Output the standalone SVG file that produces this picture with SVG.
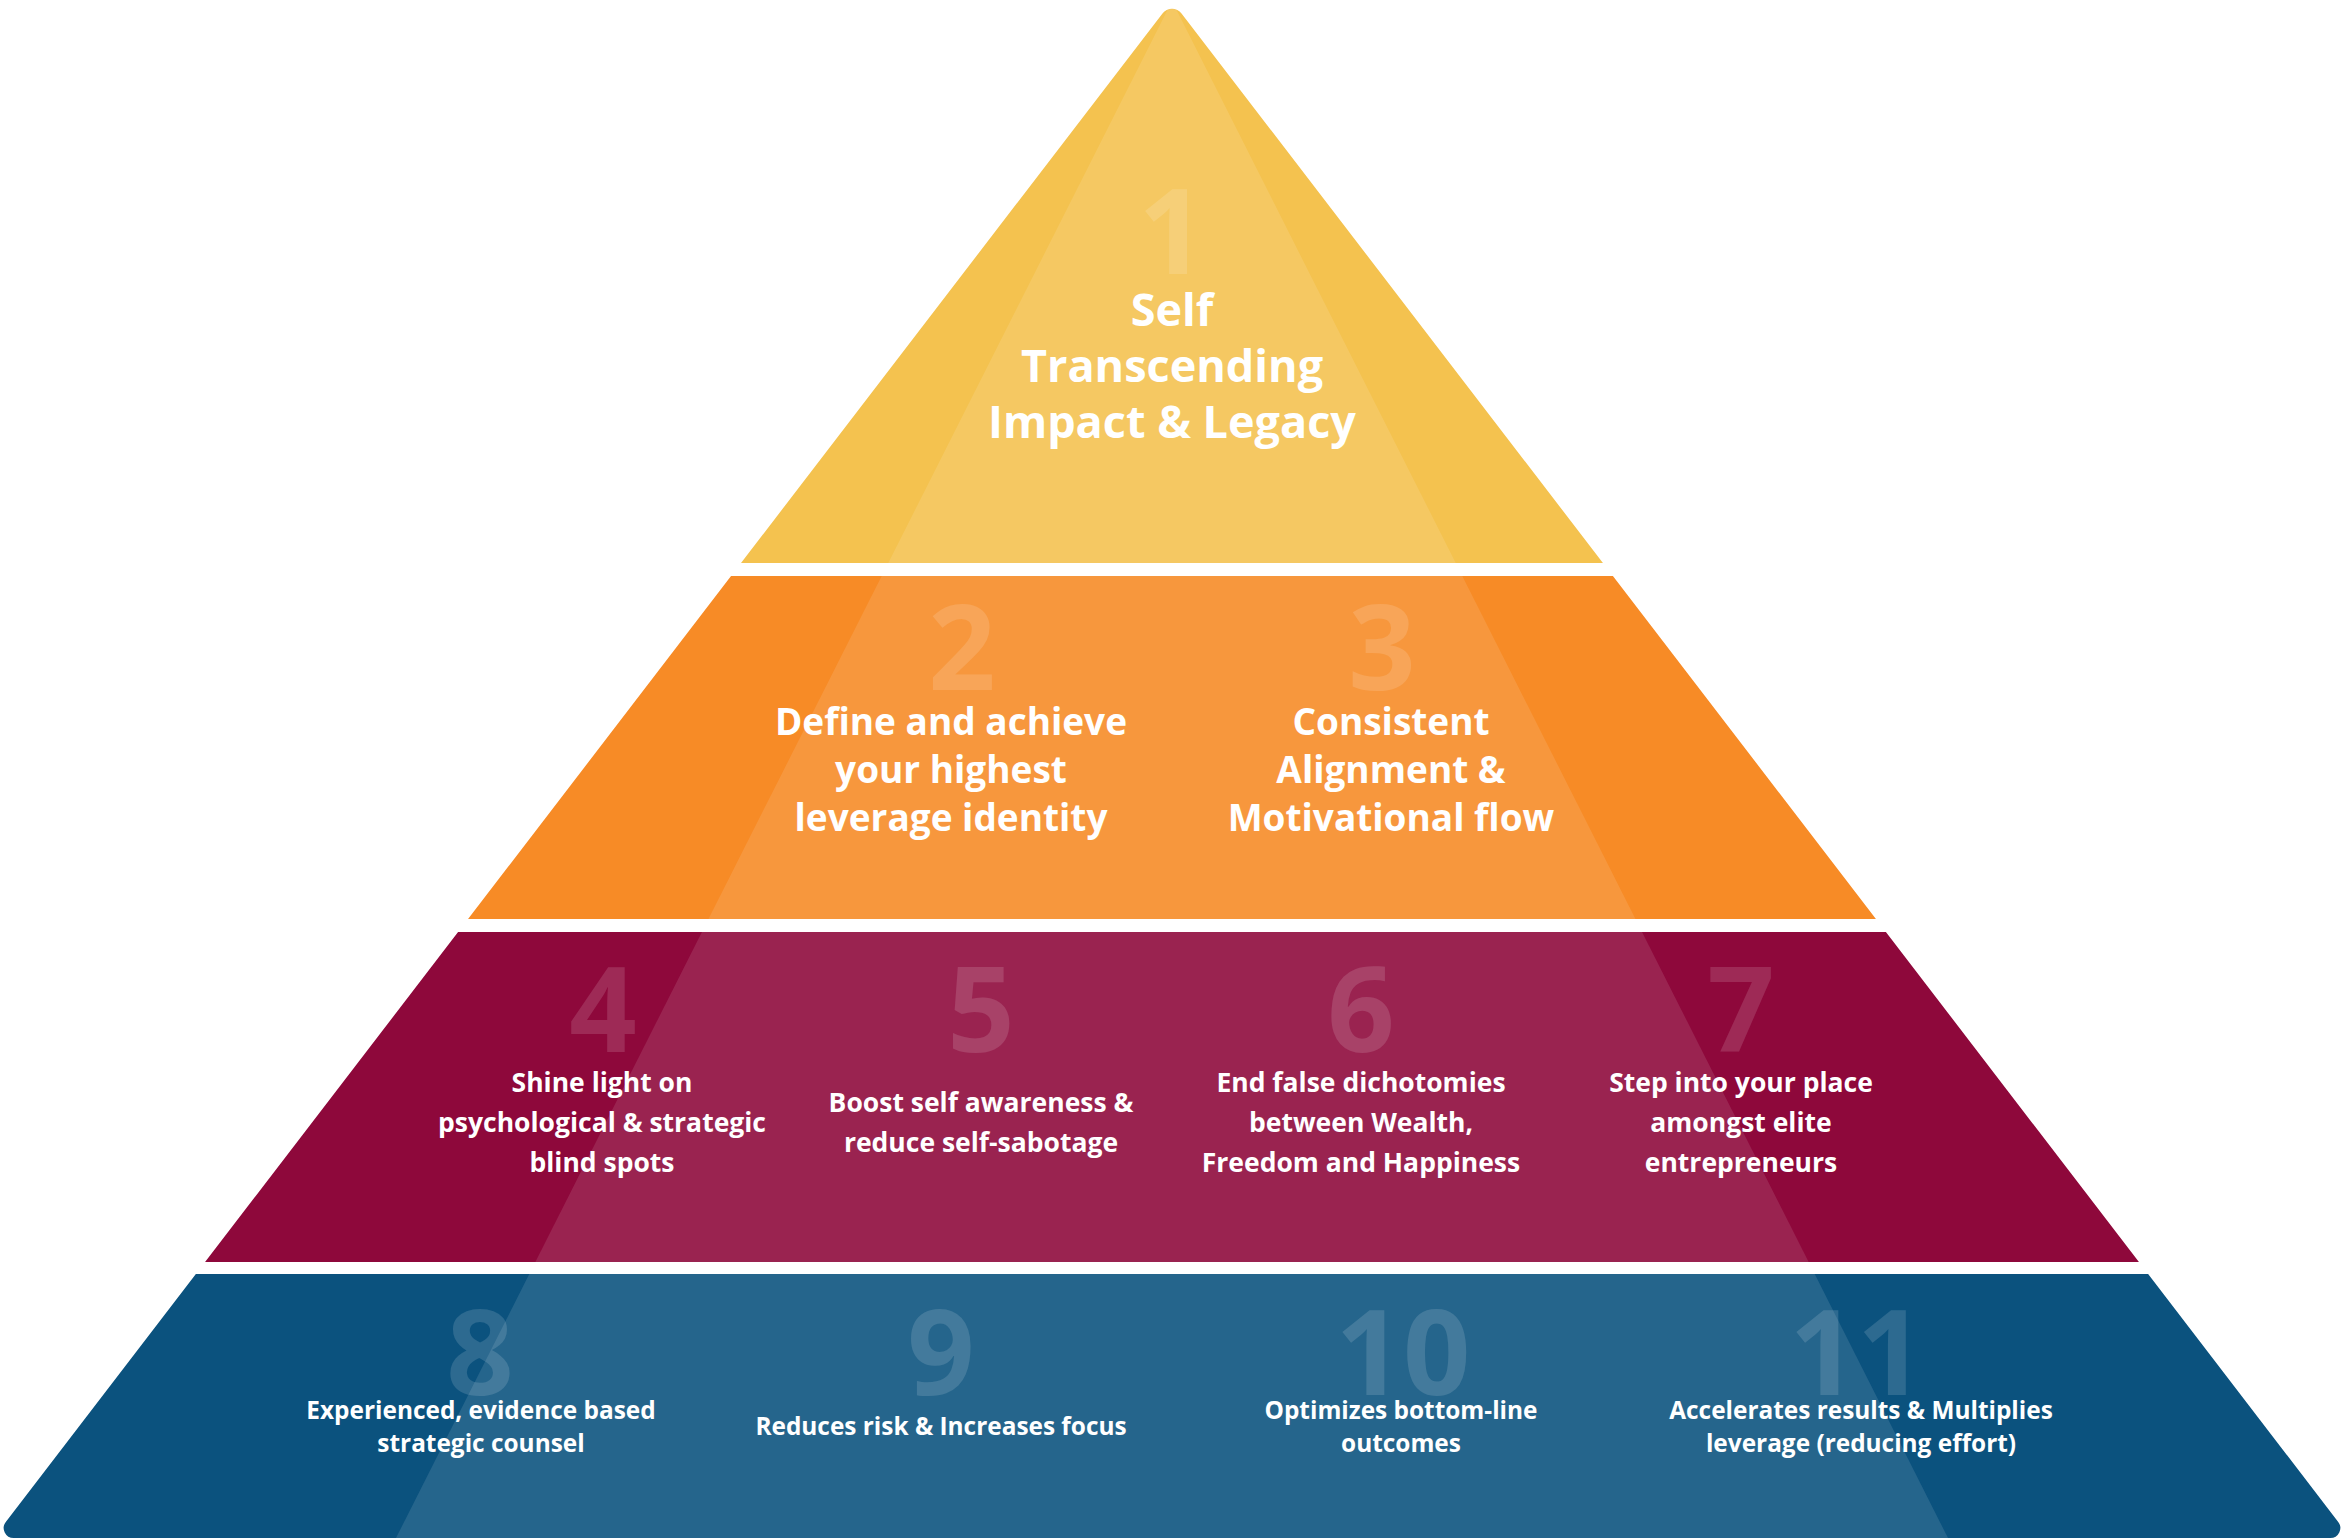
<svg xmlns="http://www.w3.org/2000/svg" width="2342" height="1540" viewBox="0 0 2342 1540">
  <style>
    .num { font-family: "Open Sans", "Liberation Sans", sans-serif; font-weight: 700; font-size: 118px; fill: #ffffff; fill-opacity: 0.14; text-anchor: middle; }
    .lbl { font-family: "Open Sans", "Liberation Sans", sans-serif; font-weight: 700; fill: #ffffff; text-anchor: middle; }
    .t1 { font-size: 45px; }
    .t2 { font-size: 37px; }
    .t3 { font-size: 26.5px; }
    .t4 { font-size: 24.4px; }
  </style>
  <defs>
    <!-- outline of the whole pyramid, rounded at apex and base corners -->
    <clipPath id="pyramid">
      <path d="M 1162.48 13.41 A 12 12 0 0 1 1181.52 13.41 L 2338.23 1521.91 A 10 10 0 0 1 2330.29 1538 L 13.71 1538 A 10 10 0 0 1 5.77 1521.91 Z"/>
    </clipPath>
  </defs>

  <g clip-path="url(#pyramid)">
    <rect id="band-1" x="0" y="0" width="2342" height="563" fill="#F4C24F"/>
    <rect id="band-2" x="0" y="576" width="2342" height="343" fill="#F78B26"/>
    <rect id="band-3" x="0" y="932" width="2342" height="330" fill="#8E083B"/>
    <rect id="band-4" x="0" y="1274" width="2342" height="266" fill="#0B527E"/>
  </g>

  <!-- inner highlight triangle, leaving the white gaps white -->
  <g clip-path="url(#pyramid)">
    <polygon points="1172,1 395,1540 1949,1540" fill="#ffffff" fill-opacity="0.11"/>
  </g>

  <g id="tier-1">
    <text class="num" x="1172" y="274">1</text>
    <text class="lbl t1" x="1172" y="326">Self</text>
    <text class="lbl t1" x="1172" y="382">Transcending</text>
    <text class="lbl t1" x="1172" y="438">Impact &amp; Legacy</text>
  </g>

  <g id="tier-2">
    <g id="node-2">
      <text class="num" x="962" y="690">2</text>
      <text class="lbl t2" x="951" y="735">Define and achieve</text>
      <text class="lbl t2" x="951" y="783">your highest</text>
      <text class="lbl t2" x="951" y="831">leverage identity</text>
    </g>
    <g id="node-3">
      <text class="num" x="1382" y="690">3</text>
      <text class="lbl t2" x="1391" y="735">Consistent</text>
      <text class="lbl t2" x="1391" y="783">Alignment &amp;</text>
      <text class="lbl t2" x="1391" y="831">Motivational flow</text>
    </g>
  </g>

  <g id="tier-3">
    <g id="node-4">
      <text class="num" x="603" y="1052">4</text>
      <text class="lbl t3" x="602" y="1092">Shine light on</text>
      <text class="lbl t3" x="602" y="1132">psychological &amp; strategic</text>
      <text class="lbl t3" x="602" y="1172">blind spots</text>
    </g>
    <g id="node-5">
      <text class="num" x="981" y="1052">5</text>
      <text class="lbl t3" x="981" y="1112">Boost self awareness &amp;</text>
      <text class="lbl t3" x="981" y="1152">reduce self-sabotage</text>
    </g>
    <g id="node-6">
      <text class="num" x="1361" y="1052">6</text>
      <text class="lbl t3" x="1361" y="1092">End false dichotomies</text>
      <text class="lbl t3" x="1361" y="1132">between Wealth,</text>
      <text class="lbl t3" x="1361" y="1172">Freedom and Happiness</text>
    </g>
    <g id="node-7">
      <text class="num" x="1741" y="1052">7</text>
      <text class="lbl t3" x="1741" y="1092">Step into your place</text>
      <text class="lbl t3" x="1741" y="1132">amongst elite</text>
      <text class="lbl t3" x="1741" y="1172">entrepreneurs</text>
    </g>
  </g>

  <g id="tier-4">
    <g id="node-8">
      <text class="num" x="480" y="1395">8</text>
      <text class="lbl t4" x="481" y="1419">Experienced, evidence based</text>
      <text class="lbl t4" x="481" y="1452">strategic counsel</text>
    </g>
    <g id="node-9">
      <text class="num" x="941" y="1395">9</text>
      <text class="lbl t4" x="941" y="1435">Reduces risk &amp; Increases focus</text>
    </g>
    <g id="node-10">
      <text class="num" x="1403" y="1395">10</text>
      <text class="lbl t4" x="1401" y="1419">Optimizes bottom-line</text>
      <text class="lbl t4" x="1401" y="1452">outcomes</text>
    </g>
    <g id="node-11">
      <text class="num" x="1857" y="1395">11</text>
      <text class="lbl t4" x="1861" y="1419">Accelerates results &amp; Multiplies</text>
      <text class="lbl t4" x="1861" y="1452">leverage (reducing effort)</text>
    </g>
  </g>

  <!-- no connectors in this figure -->
  <g id="connectors"/>
</svg>
